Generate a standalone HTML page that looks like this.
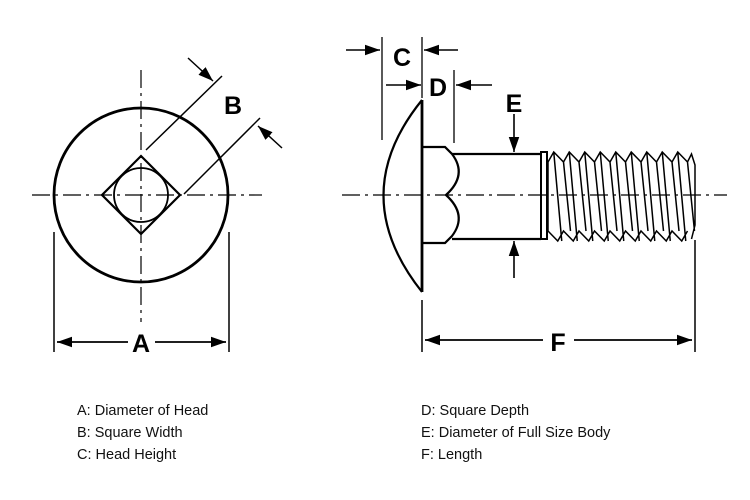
<!DOCTYPE html>
<html><head><meta charset="utf-8"><style>
html,body{margin:0;padding:0;background:#fff;width:750px;height:500px;overflow:hidden}
.lg{position:absolute;font:14.5px "Liberation Sans",sans-serif;color:#111;line-height:22px}
</style></head><body>
<svg width="750" height="500" style="position:absolute;left:0;top:0" font-family="Liberation Sans, sans-serif" font-weight="bold">
<defs>
<marker id="ar2" viewBox="0 0 10 10" refX="10" refY="5" markerWidth="15" markerHeight="15" markerUnits="userSpaceOnUse" orient="auto"><path d="M0,1.5 L10,5 L0,8.5z" fill="#000"/></marker></defs>
<g stroke="#000" fill="none">
<!-- left view -->
<line x1="32" y1="195" x2="262" y2="195" stroke-width="1.2" stroke-dasharray="18,5,3,5"/>
<line x1="141" y1="70" x2="141" y2="322" stroke-width="1.2" stroke-dasharray="18,5,3,5"/>
<circle cx="141" cy="195" r="87" stroke-width="2.8"/>
<path d="M141,156 L180,195 L141,234 L102,195Z" stroke-width="2.2"/>
<circle cx="141" cy="195" r="27" stroke-width="1.8"/>
<line x1="146" y1="150" x2="222" y2="76" stroke-width="1.5"/>
<line x1="184" y1="194" x2="260" y2="118" stroke-width="1.5"/>
<line x1="188" y1="58" x2="213" y2="81" stroke-width="1.5" marker-end="url(#ar2)"/>
<line x1="282" y1="148" x2="258" y2="126" stroke-width="1.5" marker-end="url(#ar2)"/>
<line x1="54" y1="232" x2="54" y2="352" stroke-width="1.5"/>
<line x1="229" y1="232" x2="229" y2="352" stroke-width="1.5"/>
<line x1="128" y1="342" x2="57" y2="342" stroke-width="1.8" marker-end="url(#ar2)"/>
<line x1="155" y1="342" x2="226" y2="342" stroke-width="1.8" marker-end="url(#ar2)"/>
<!-- right view -->
<line x1="342" y1="195" x2="727" y2="195" stroke-width="1.2" stroke-dasharray="18,5,3,5"/>
<path d="M422,100 Q345,195 422,292" stroke-width="2.2"/>
<line x1="422" y1="100" x2="422" y2="292" stroke-width="2.8"/>
<path d="M422,147 L445,147 L452,154 Q468,175 446,195 Q468,215 452,236 L445,243 L422,243" stroke-width="2.2"/>
<path d="M452,154 L541,154 M452,239 L541,239" stroke-width="2.2"/>
<rect x="541" y="152" width="6" height="87" stroke-width="2"/>
<path id="thr" stroke-width="1.5"/>
<line x1="382" y1="37" x2="382" y2="140" stroke-width="1.3"/>
<line x1="422" y1="37" x2="422" y2="98" stroke-width="1.3"/>
<line x1="454" y1="70" x2="454" y2="143" stroke-width="1.3"/>
<line x1="346" y1="50" x2="380" y2="50" stroke-width="1.6" marker-end="url(#ar2)"/>
<line x1="458" y1="50" x2="424" y2="50" stroke-width="1.6" marker-end="url(#ar2)"/>
<line x1="386" y1="85" x2="421" y2="85" stroke-width="1.6" marker-end="url(#ar2)"/>
<line x1="492" y1="85" x2="456" y2="85" stroke-width="1.6" marker-end="url(#ar2)"/>
<line x1="514" y1="114" x2="514" y2="152" stroke-width="1.6" marker-end="url(#ar2)"/>
<line x1="514" y1="278" x2="514" y2="241" stroke-width="1.6" marker-end="url(#ar2)"/>
<line x1="422" y1="300" x2="422" y2="352" stroke-width="1.5"/>
<line x1="695" y1="240" x2="695" y2="352" stroke-width="1.5"/>
<line x1="543" y1="340" x2="425" y2="340" stroke-width="1.8" marker-end="url(#ar2)"/>
<line x1="574" y1="340" x2="692" y2="340" stroke-width="1.8" marker-end="url(#ar2)"/>
</g>
<g font-size="25" fill="#000" text-anchor="middle">
<text x="141" y="352">A</text>
<text x="233" y="114">B</text>
<text x="402" y="66">C</text>
<text x="438" y="96">D</text>
<text x="514" y="112">E</text>
<text x="558" y="351">F</text>
</g>
</svg>
<script>
(function(){
var p=15.5,x0=548,d="";var top="M548,162",bot="M548,231";
for(var i=0;i<9;i++){var a=x0+i*p;top+=" L"+(a+p/2-2)+",152 L"+(a+p)+",162";bot+=" L"+(a+p/2+2)+",241 L"+(a+p)+",231";}
var e=x0+9*p;top+=" L"+(e+4)+",154 L695,165 L695,225 L"+(e+4)+",239";
d=top+" "+bot;
for(var i=0;i<9;i++){var a=x0+i*p;d+=" M"+(a+p/2-2)+",152 L"+(a+p/2+6)+",241 M"+(a+p)+",162 L"+(a+p+7)+",231";}
d+=" M548,162 L548,231";
document.getElementById('thr').setAttribute('d',d);
})();
</script>
<div class="lg" style="left:77px;top:400px">A: Diameter of Head<br>B: Square Width<br>C: Head Height</div>
<div class="lg" style="left:421px;top:400px">D: Square Depth<br>E: Diameter of Full Size Body<br>F: Length</div>
</body></html>
